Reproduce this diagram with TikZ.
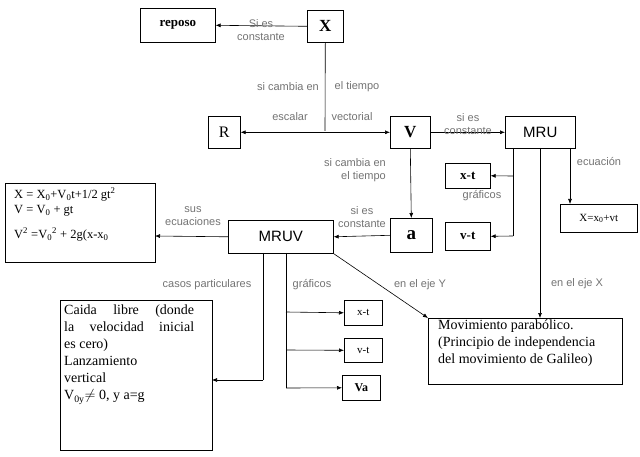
\documentclass[tikz,border=0pt]{standalone}
\usepackage{fontspec}
\setmainfont{Liberation Serif}
\newfontfamily\sansf{Liberation Sans}
\usetikzlibrary{arrows.meta}
\begin{document}
\begin{tikzpicture}[x=1pt,y=-1pt,
  box/.style={draw,line width=0.6pt,inner sep=0pt,anchor=north west},
  lbl/.style={font=\sansf\fontsize{11}{13}\selectfont,text=black!55,align=center,inner sep=0pt},
  ar/.style={line width=0.6pt,-{Latex[length=5pt,width=4pt]}},
  ln/.style={line width=0.6pt}]
\useasboundingbox (0,0) rectangle (640,457);
% boxes
\node[box,minimum width=75,minimum height=34,font=\bfseries\fontsize{13}{14}\selectfont] (rep) at (140,8) {reposo};
\node[box,minimum width=36,minimum height=32,font=\bfseries\fontsize{17}{18}\selectfont] (X) at (307,10) {X};
\node[box,minimum width=32,minimum height=32,font=\fontsize{16}{18}\selectfont] (R) at (208,116) {R};
\node[box,minimum width=40,minimum height=32,font=\bfseries\fontsize{17}{18}\selectfont] (V) at (390,116) {V};
\node[box,minimum width=70,minimum height=32,font=\sansf\fontsize{15}{16}\selectfont] (MRU) at (505,116) {MRU};
\node[box,minimum width=42,minimum height=34,font=\bfseries\fontsize{19}{20}\selectfont] (a) at (390,218) {a};
\node[box,minimum width=105,minimum height=33,font=\sansf\fontsize{15}{16}\selectfont] (MRUV) at (228,220) {MRUV};
\node[box,minimum width=45,minimum height=25,font=\bfseries\fontsize{13}{14}\selectfont] (xt1) at (445,163) {x-t};
\node[box,minimum width=45,minimum height=28,font=\bfseries\fontsize{13}{14}\selectfont] (vt1) at (445,222) {v-t};
\node[box,minimum width=77,minimum height=28,font=\fontsize{11}{12}\selectfont] (eqx) at (560,204) {X=x\textsubscript{0}+vt};
\draw[ln] (5,183) rectangle (155,262);
\node[anchor=north west,align=left,inner sep=0pt,font=\fontsize{12.5}{15}\selectfont] (eqs) at (14,188) {X = X\textsubscript{0}+V\textsubscript{0}t+1/2 gt\textsuperscript{2}\\V = V\textsubscript{0} + gt\\[10pt]V\textsuperscript{2} =V\textsubscript{0}\textsuperscript{2} + 2g(x-x\textsubscript{0}};
\coordinate (eqE) at (155,236);
\draw[ln] (60,300) rectangle (212,450);
\node[anchor=north west,align=left,inner sep=0pt,font=\fontsize{14}{17}\selectfont] (cl) at (64,305) {\makebox[130pt][s]{Caida libre (donde}\\\makebox[130pt][s]{la velocidad inicial}\\es cero)\\Lanzamiento\\vertical\\V\textsubscript{0y}$\neq$ 0, y a=g};
\coordinate (clE) at (212,380);
\node[box,minimum width=38,minimum height=25,font=\fontsize{11}{12}\selectfont] (xt2) at (344,300) {x-t};
\node[box,minimum width=38,minimum height=24,font=\fontsize{11}{12}\selectfont] (vt2) at (344,338) {v-t};
\node[box,minimum width=38,minimum height=25,font=\bfseries\fontsize{12}{13}\selectfont] (va) at (342,375) {Va};
\draw[ln] (428,318) rectangle (622,384);
\coordinate (parNW) at (428,318);
\node[anchor=north west,align=left,inner sep=0pt,font=\fontsize{14}{17}\selectfont] (par) at (438,320) {Movimiento parabólico.\\(Principio de independencia\\del movimiento de Galileo)};
% connectors
\draw[ar] (X.west) -- (rep.east);
\node[lbl] at (261,30) {Si es\\constante};
\coordinate (j1) at (325,131);
\draw[ln] (X.south) -- (j1);
\node[lbl] at (288,87) {si cambia en};
\node[lbl] at (357,87) {el tiempo};
\draw[line width=0.6pt,{Latex[length=5pt,width=4pt]}-{Latex[length=5pt,width=4pt]}] (R.east) -- (V.west);
\node[lbl] at (290,117) {escalar};
\node[lbl] at (352,117) {vectorial};
\draw[ar] (V.east) -- (MRU.west);
\node[lbl] at (468,124) {si es\\constante};
\draw[ar] (V.south) -- (a.north);
\node[lbl,align=right,anchor=east] at (386,170) {si cambia en\\el tiempo};
\draw[ar] (a.west) -- (MRUV.east);
\node[lbl] at (362,217) {si es\\constante};
\draw[ar] (MRUV.west) -- (eqE);
\node[lbl] at (193,216) {sus\\ecuaciones};
\coordinate (m1) at (513,148);
\draw[ln] (m1) -- (513,236);
\draw[ar] (513,176) -- (xt1.east);
\draw[ar] (513,236) -- (vt1.east);
\node[lbl] at (482,196) {gráficos};
\coordinate (eqT) at (570,204);
\draw[ar] (570,148) -- (eqT);
\node[lbl] at (599,162) {ecuación};
\draw[ar] (540,148) -- (540,318);
\node[lbl] at (577,284) {en el  eje X};
\draw[ar] (MRUV.south east) -- (parNW);
\node[lbl] at (420,285) {en el  eje Y};
\draw[ln] (263,253) -- (263,380);
\draw[ar] (263,380) -- (clE);
\node[lbl] at (207,285) {casos particulares};
\draw[ln] (286,253) -- (286,388);
\draw[ar] (286,312) -- (xt2.west);
\draw[ar] (286,350) -- (vt2.west);
\draw[ar] (286,388) -- (va.west);
\node[lbl] at (312,285) {gráficos};
\end{tikzpicture}
\end{document}
